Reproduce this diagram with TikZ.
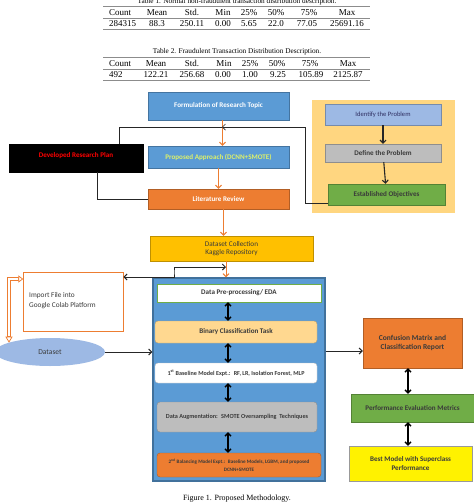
\documentclass[tikz,border=0pt]{standalone}
\usepackage{fontspec}
\setmainfont{Liberation Serif}
\newfontfamily\calib{Carlito}
\usetikzlibrary{shapes,arrows.meta,positioning,fit,calc}

\definecolor{boxblue}{HTML}{5B9BD5}
\definecolor{edgeblue}{HTML}{41719C}
\definecolor{boxorange}{HTML}{ED7D31}
\definecolor{boxgold}{HTML}{FFC000}
\definecolor{boxgreen}{HTML}{70AD47}
\definecolor{boxgray}{HTML}{BDBDBD}
\definecolor{lightblue}{HTML}{9DB9E4}
\definecolor{panelorange}{HTML}{FFD680}
\definecolor{paleorange}{HTML}{FFD890}
\definecolor{limetext}{HTML}{DDF06A}
\definecolor{darktext}{HTML}{3A3A3A}
\definecolor{rulegray}{HTML}{8C8C8C}

\newcommand{\flowfont}{\calib\bfseries\fontsize{7.1}{8.4}\selectfont}
\newcommand{\tabfont}{\fontsize{9}{10}\selectfont}

\begin{document}
\begin{tikzpicture}[x=1pt,y=-1pt,
    cell/.style={inner sep=0pt, text height=6.2pt, text depth=0pt, font=\tabfont},
    rule/.style={draw=rulegray, line width=0.9pt},
    proc/.style={rectangle, draw=#1!75!black, fill=#1, line width=0.4pt, align=center, inner sep=1pt, font=\flowfont},
    soft/.style={rectangle, rounded corners=3pt, draw=#1!75!black, fill=#1, line width=0.4pt, align=center, inner sep=1pt, font=\flowfont, text=darktext},
    orarrow/.style={draw=boxorange, line width=1pt, -{Straight Barb[length=3pt,width=6pt]}},
    blkline/.style={draw=black!85, line width=0.7pt},
    blkarrow/.style={blkline, -{Straight Barb[length=3pt,width=6pt]}},
    twoway/.style={draw=black, line width=1.4pt, {Straight Barb[length=3pt,width=6pt]}-{Straight Barb[length=3pt,width=6pt]}},
    orout/.style={draw=boxorange, line width=3.4pt},
    orin/.style={draw=white, line width=1.6pt, shorten <=0.9pt, shorten >=0.9pt},
    ortip/.style={draw=boxorange, line width=0.7pt, fill=white}
]
\useasboundingbox (0,0) rectangle (474,504);
\fill[white] (0,0) rectangle (474,504);

% table 1
\node (capA) at (237,1.5) {\fontsize{7.3}{8}\selectfont Table 1. Normal non-fraudulent transaction distribution description.};
\foreach \y in {6,18,29} \draw[rule] (103,\y) -- (370,\y);
\node[cell, anchor=west] (hA0) at (109,12) {Count};
\foreach \x/\t [count=\i] in {157/Mean,192/Std.,223/Min,249/25\%,276/50\%,309/75\%,347/Max}
    \node[cell] (hA\i) at (\x,12) {\t};
\node[cell, anchor=west] (dA0) at (109,23.5) {284315};
\foreach \x/\t [count=\i] in {157/88.3,192/250.11,223/0.00,249/5.65,276/22.0,307/77.05,347/25691.16}
    \node[cell] (dA\i) at (\x,23.5) {\t};

% table 2
\node (capB) at (237,52) {\fontsize{7.3}{8}\selectfont Table 2. Fraudulent Transaction Distribution Description.};
\foreach \y in {57,69,80} \draw[rule] (103,\y) -- (370,\y);
\node[cell, anchor=west] (hB0) at (109,63) {Count};
\foreach \x/\t [count=\i] in {156/Mean,192/Std.,224/Min,250/25\%,277/50\%,310/75\%,348/Max}
    \node[cell] (hB\i) at (\x,63) {\t};
\node[cell, anchor=west] (dB0) at (109,74.5) {492};
\foreach \x/\t [count=\i] in {156/122.21,192/256.68,223/0.00,250/1.00,278/9.25,311/105.89,348/2125.87}
    \node[cell] (dB\i) at (\x,74.5) {\t};

% research stage
\node[proc=boxblue, text=white, minimum width=141pt, minimum height=28pt] (topic) at (218.5,106) {Formulation of Research Topic};
\node[proc=boxblue, text=limetext, minimum width=141pt, minimum height=22pt] (approach) at (218.5,157) {Proposed Approach (DCNN+SMOTE)};
\node[proc=boxorange, text=white, minimum width=141pt, minimum height=20pt] (litrev) at (218.5,199) {Literature Review};
\node[proc=black, text=red, minimum width=134pt, minimum height=28pt, text depth=6pt] (plan) at (76,158) {Developed Research Plan};

\node[rectangle, fill=panelorange, minimum width=143pt, minimum height=113pt] (problem) at (383.5,156.5) {};
\node[proc=lightblue, text=darktext!80!blue, font=\calib\fontsize{6.6}{7.4}\selectfont, minimum width=116pt, minimum height=21pt] (identify) at (383,114.5) {Identify the Problem};
\node[proc=boxgray, text=darktext, minimum width=116pt, minimum height=18pt] (define) at (383,153) {Define the Problem};
\node[proc=boxgreen, text=darktext, minimum width=117pt, minimum height=21pt] (objectives) at (386.5,194.5) {Established Objectives};

\node[proc=boxgold, text=darktext, font=\calib\fontsize{7.2}{8.6}\selectfont, minimum width=163pt, minimum height=25pt] (collect) at (231.5,248.5) {Dataset Collection\\Kaggle Repository};

% modelling stage
\node[rectangle, fill=boxblue, draw=edgeblue, line width=1.2pt, minimum width=172pt, minimum height=203pt] (mainpanel) at (239,379.5) {};
\node[proc=white, draw=boxgreen, text=darktext, minimum width=164pt, minimum height=18pt] (prep) at (239,293) {Data Pre-processing/ EDA};
\node[soft=paleorange, minimum width=162pt, minimum height=22pt] (binary) at (236,332) {Binary Classification Task};
\node[soft=white, minimum width=162pt, minimum height=20pt, font=\calib\bfseries\fontsize{6.1}{7}\selectfont] (baseline) at (236,373) {1\textsuperscript{st} Baseline Model Expt.:~ RF, LR, Isolation Forest, MLP};
\node[soft=boxgray, minimum width=160pt, minimum height=30pt, font=\calib\bfseries\fontsize{6.2}{7}\selectfont] (augment) at (237,417) {Data Augmentation:~ SMOTE Oversampling~ Techniques};
\node[soft=boxorange, minimum width=164pt, minimum height=24pt, font=\calib\bfseries\fontsize{5.1}{8}\selectfont] (balance) at (239,465) {2\textsuperscript{nd} Balancing Model Expt.:~ Baseline Models, LGBM, and proposed\\DCNN+SMOTE};

\node[rectangle, draw=boxorange, fill=white, line width=0.7pt, minimum width=100pt, minimum height=59pt] (import) at (73,301.5) {};
\node[anchor=west, align=left, inner sep=0pt, text=darktext, font=\calib\fontsize{7.3}{10}\selectfont] (importtxt) at (29,301) {Import File into\\Google Colab Platform};
\node[ellipse, fill=lightblue, minimum width=110pt, minimum height=28pt, text=darktext, font=\calib\fontsize{7.5}{8.4}\selectfont] (dataset) at (50,352) {Dataset};

% evaluation stage
\node[proc=boxorange, text=darktext, font=\calib\bfseries\fontsize{7.5}{9.4}\selectfont, minimum width=99pt, minimum height=50pt] (confusion) at (412.5,343) {Confusion Matrix and\\Classification Report};
\node[proc=boxgreen, text=darktext, minimum width=123pt, minimum height=28pt] (metrics) at (412.5,408) {Performance Evaluation Metrics};
\node[proc=yellow, draw=black!40, text=darktext, minimum width=123pt, minimum height=35pt] (best) at (410.5,463.5) {Best Model with Superclass\\Performance};

% connectors
\coordinate (join) at (222,127);
\coordinate (bend) at (305,127);
\coordinate (elbow) at (174,272);
\coordinate (tap) at (226,267);
\coordinate (cl) at (9,337);
\coordinate (ol) at ([yshift=22.5pt, xshift=-4pt]import.west);
\coordinate (ax) at (228,0);
\coordinate (rx) at (408,0);
\coordinate (cin) at ([yshift=-8pt]confusion.west);

\draw[orarrow] ([xshift=4pt]topic.south) -- ([xshift=4pt]approach.north);
\draw[orarrow] (approach) -- (litrev);
\draw[orarrow] ([xshift=5pt]litrev.south) -- ([xshift=-8pt]collect.north);
\draw[orarrow] ([xshift=-5.5pt]collect.south) -- ([xshift=-13pt]mainpanel.north);

\draw[blkline] ([xshift=43pt]plan.north) |- (join);
\draw[blkarrow] ([yshift=-9pt]objectives.west) -| (bend) -- (join);
\draw[blkline] ([xshift=21pt]plan.south) |- (litrev.west);

\draw[blkarrow, line width=1.1pt] (identify) -- (define);
\draw[blkarrow, line width=1.1pt] (define) -- (objectives);

\draw[blkline, line width=1pt, {Straight Barb[length=3pt,width=6pt]}-{Straight Barb[length=3pt,width=6pt]}] ([yshift=24.5pt]import.east) -| (elbow) |- (tap);
% hollow double connector, import box <-> dataset
\draw[orout] (ol) -| (cl);
\draw[orin] (ol) -| (cl);
\draw[ortip] ([yshift=3pt]ol) -- ([yshift=22.5pt]import.west) -- ([yshift=-3pt]ol) -- cycle;
\draw[ortip] ([xshift=-3pt]cl) -- ([yshift=-5pt]cl) -- ([xshift=3pt]cl) -- cycle;
\draw[blkarrow, line width=1pt] (dataset) -- (mainpanel.west |- dataset);

\draw[twoway] (prep.south -| ax) -- (binary.north -| ax);
\draw[twoway] (binary.south -| ax) -- (baseline.north -| ax);
\draw[twoway] (baseline.south -| ax) -- (augment.north -| ax);
\draw[twoway] (augment.south -| ax) -- (balance.north -| ax);

\draw[blkarrow, line width=1pt] (mainpanel.east |- cin) -- (cin);
\draw[twoway] (confusion.south -| rx) -- (metrics.north -| rx);
\draw[twoway] (metrics.south -| rx) -- (best.north -| rx);

\node (figcap) at (237,499) {\fontsize{8}{9}\selectfont Figure 1. Proposed Methodology.};
\end{tikzpicture}
\end{document}
